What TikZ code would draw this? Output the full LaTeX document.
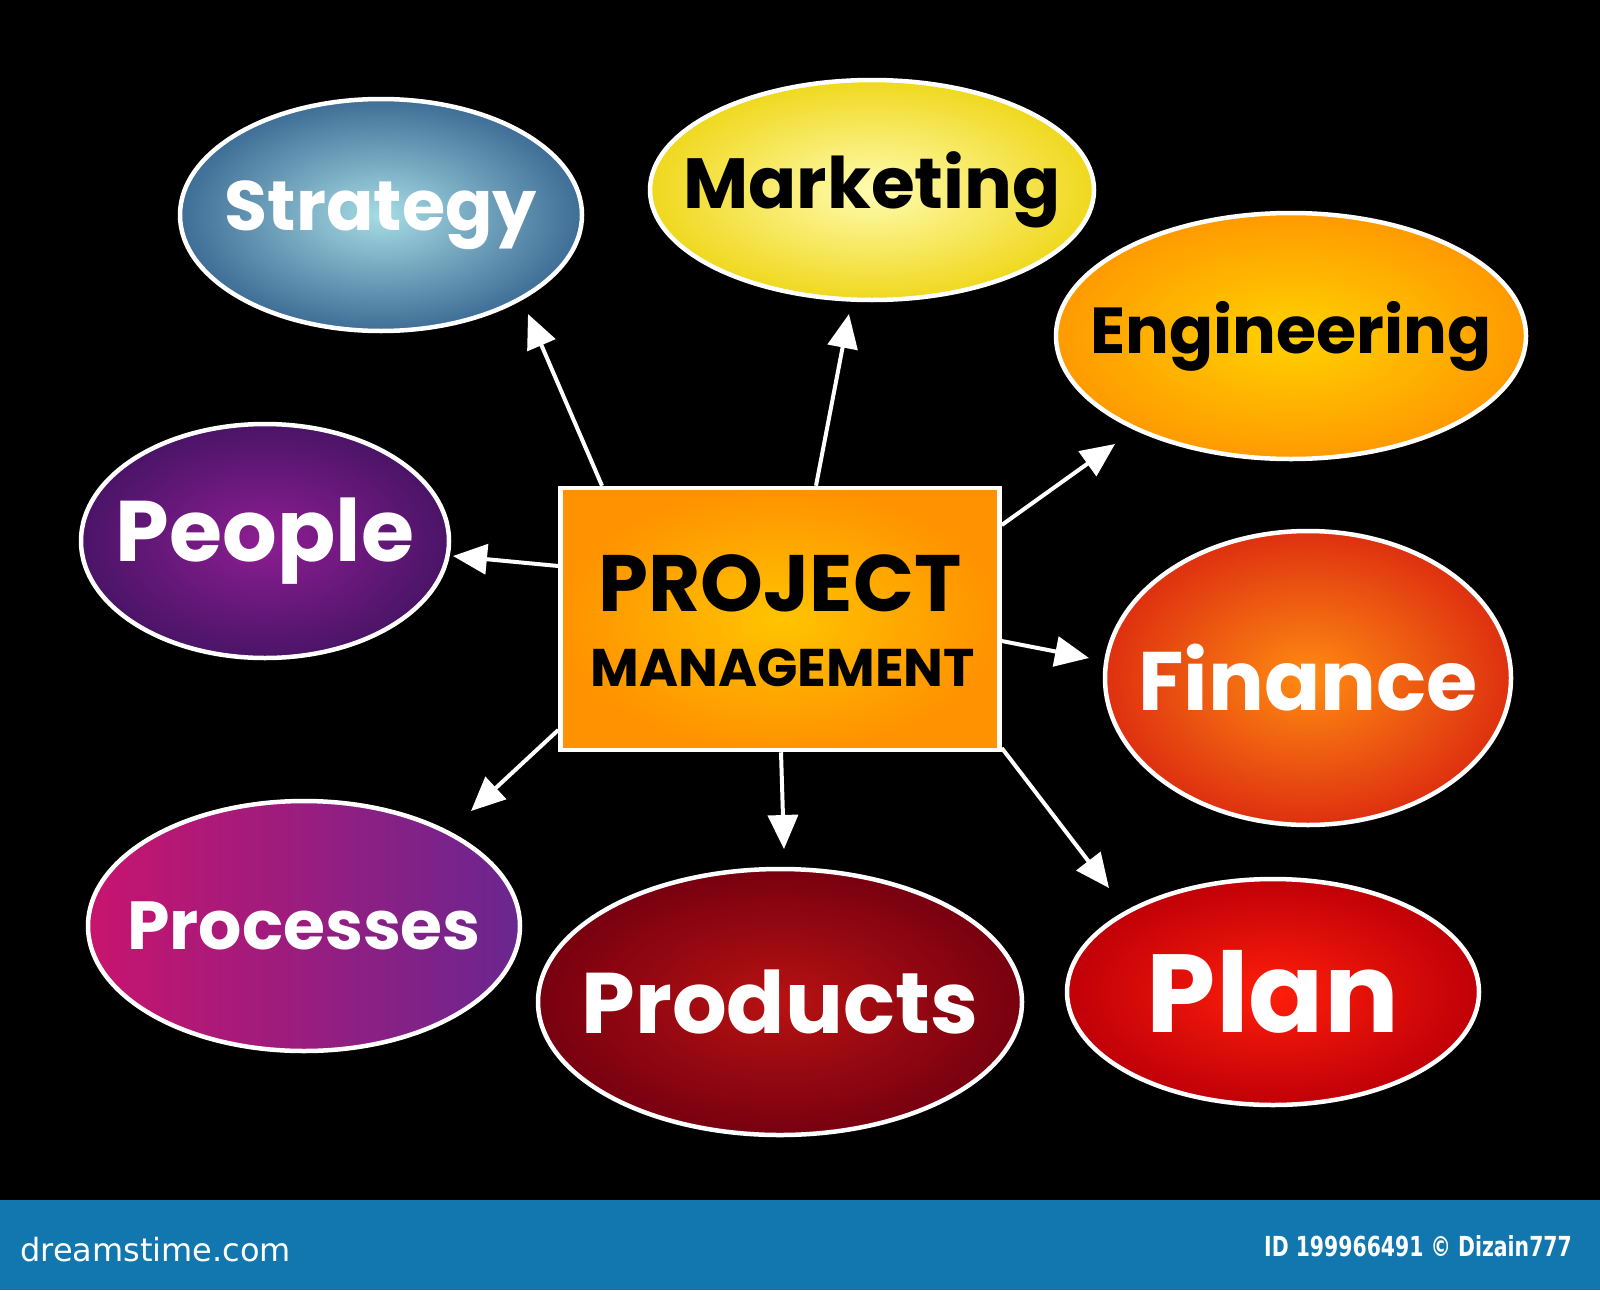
\documentclass[tikz,border=0pt]{standalone}
\usepackage{fontspec}
\usetikzlibrary{shapes.geometric,arrows.meta}
\newfontfamily\hand{Poppins}
\newfontfamily\barfont{DejaVu Sans}
\definecolor{bgblack}{HTML}{000000}
\definecolor{barblue}{HTML}{1177AE}
\definecolor{stIn}{HTML}{A6DCE4}
\definecolor{stOut}{HTML}{3E6D96}
\definecolor{mkIn}{HTML}{FFFCB0}
\definecolor{mkOut}{HTML}{F0D81E}
\definecolor{enIn}{HTML}{FFD200}
\definecolor{enOut}{HTML}{FF9A00}
\definecolor{peIn}{HTML}{8E1E92}
\definecolor{peOut}{HTML}{4A1468}
\definecolor{fiIn}{HTML}{FF8C12}
\definecolor{fiOut}{HTML}{DE3010}
\definecolor{prL}{HTML}{C8146E}
\definecolor{prR}{HTML}{6A2690}
\definecolor{pdIn}{HTML}{B81212}
\definecolor{pdOut}{HTML}{780010}
\definecolor{plIn}{HTML}{FF1E0A}
\definecolor{plOut}{HTML}{C00008}
\definecolor{pmIn}{HTML}{FFC400}
\definecolor{pmOut}{HTML}{FF9200}
\tikzset{
  bubble/.style={ellipse, draw=white, line width=4.5pt, inner sep=0pt},
  radfill/.style 2 args={shading=radial, inner color=#1, outer color=#2},
  wlab/.style={text=white, inner sep=0pt, font=\hand\bfseries\fontsize{#1}{#1}\selectfont},
  blab/.style={text=black, inner sep=0pt, font=\hand\bfseries\fontsize{#1}{#1}\selectfont},
  link/.style={draw=white, line width=4pt, -{Triangle[length=34pt,width=30pt,fill=white]}},
}
\begin{document}
\begin{tikzpicture}[x=1pt,y=-1pt]
\useasboundingbox (0,0) rectangle (1600,1290);
\fill[bgblack] (0,0) rectangle (1600,1200);
\fill[barblue] (0,1200) rectangle (1600,1290);

% center box
\node[draw=white, line width=4.5pt, rectangle, minimum width=439pt, minimum height=262pt,
      radfill={pmIn}{pmOut}, inner sep=0pt] (pm) at (780,619) {};
\node[blab=80] (pmA) at (780,583) {PROJECT};
\node[blab=53] (pmB) at (783,668) {MANAGEMENT};

% bubbles
\node[bubble, radfill={stIn}{stOut}, minimum width=402pt, minimum height=232pt,
      label={[wlab=70]center:Strategy}] (st) at (381,215) {};
\node[bubble, radfill={mkIn}{mkOut}, minimum width=444pt, minimum height=220pt,
      label={[blab=71]center:Marketing}] (mk) at (872,190) {};
\node[bubble, radfill={enIn}{enOut}, minimum width=470pt, minimum height=246pt,
      label={[blab=65]center:Engineering}] (en) at (1291,336) {};
\node[bubble, radfill={peIn}{peOut}, minimum width=368pt, minimum height=234pt,
      label={[wlab=86]center:People}] (pe) at (265,541) {};
\node[bubble, radfill={fiIn}{fiOut}, minimum width=406pt, minimum height=294pt,
      label={[wlab=83]center:Finance}] (fi) at (1308,678) {};
\node[bubble, left color=prL, right color=prR, minimum width=432pt, minimum height=250pt,
      label={[wlab=68]center:Processes}] (pr) at (304,926) {};
\node[bubble, radfill={pdIn}{pdOut}, minimum width=484pt, minimum height=266pt,
      label={[wlab=86]center:Products}] (pd) at (780,1002) {};
\node[bubble, radfill={plIn}{plOut}, minimum width=412pt, minimum height=226pt,
      label={[wlab=111]center:Plan}] (pl) at (1273,992) {};

% arrow end points
\coordinate (aSt) at (528,314);
\coordinate (aMk) at (849,314);
\coordinate (aEn) at (1115,444);
\coordinate (aPe) at (453,556);
\coordinate (aFi) at (1089,658);
\coordinate (aPr) at (471,811);
\coordinate (aPd) at (784,849);
\coordinate (aPl) at (1109,888);

\draw[link] ([xshift=-178pt]pm.north) -- (aSt);
\draw[link] ([xshift=36pt]pm.north) -- (aMk);
\draw[link] ([yshift=94pt]pm.east) -- (aEn);
\draw[link] ([yshift=53pt]pm.west) -- (aPe);
\draw[link] ([yshift=-22pt]pm.east) -- (aFi);
\draw[link] ([yshift=-111pt]pm.west) -- (aPr);
\draw[link] ([xshift=1pt]pm.south) -- (aPd);
\draw[link] ([yshift=-129pt]pm.east) -- (aPl);

% bottom bar texts
\node[anchor=west, text=white, font=\barfont\fontsize{32}{36}\selectfont, inner sep=0pt] (dt) at (20,1250) {dreamstime.com};
\node[anchor=east, text=white, inner sep=0pt] (id) at (1572,1246)
  {\scalebox{0.85}[1.15]{\barfont\bfseries\fontsize{24}{28}\selectfont ID 199966491 © Dizain777}};
\end{tikzpicture}
\end{document}
